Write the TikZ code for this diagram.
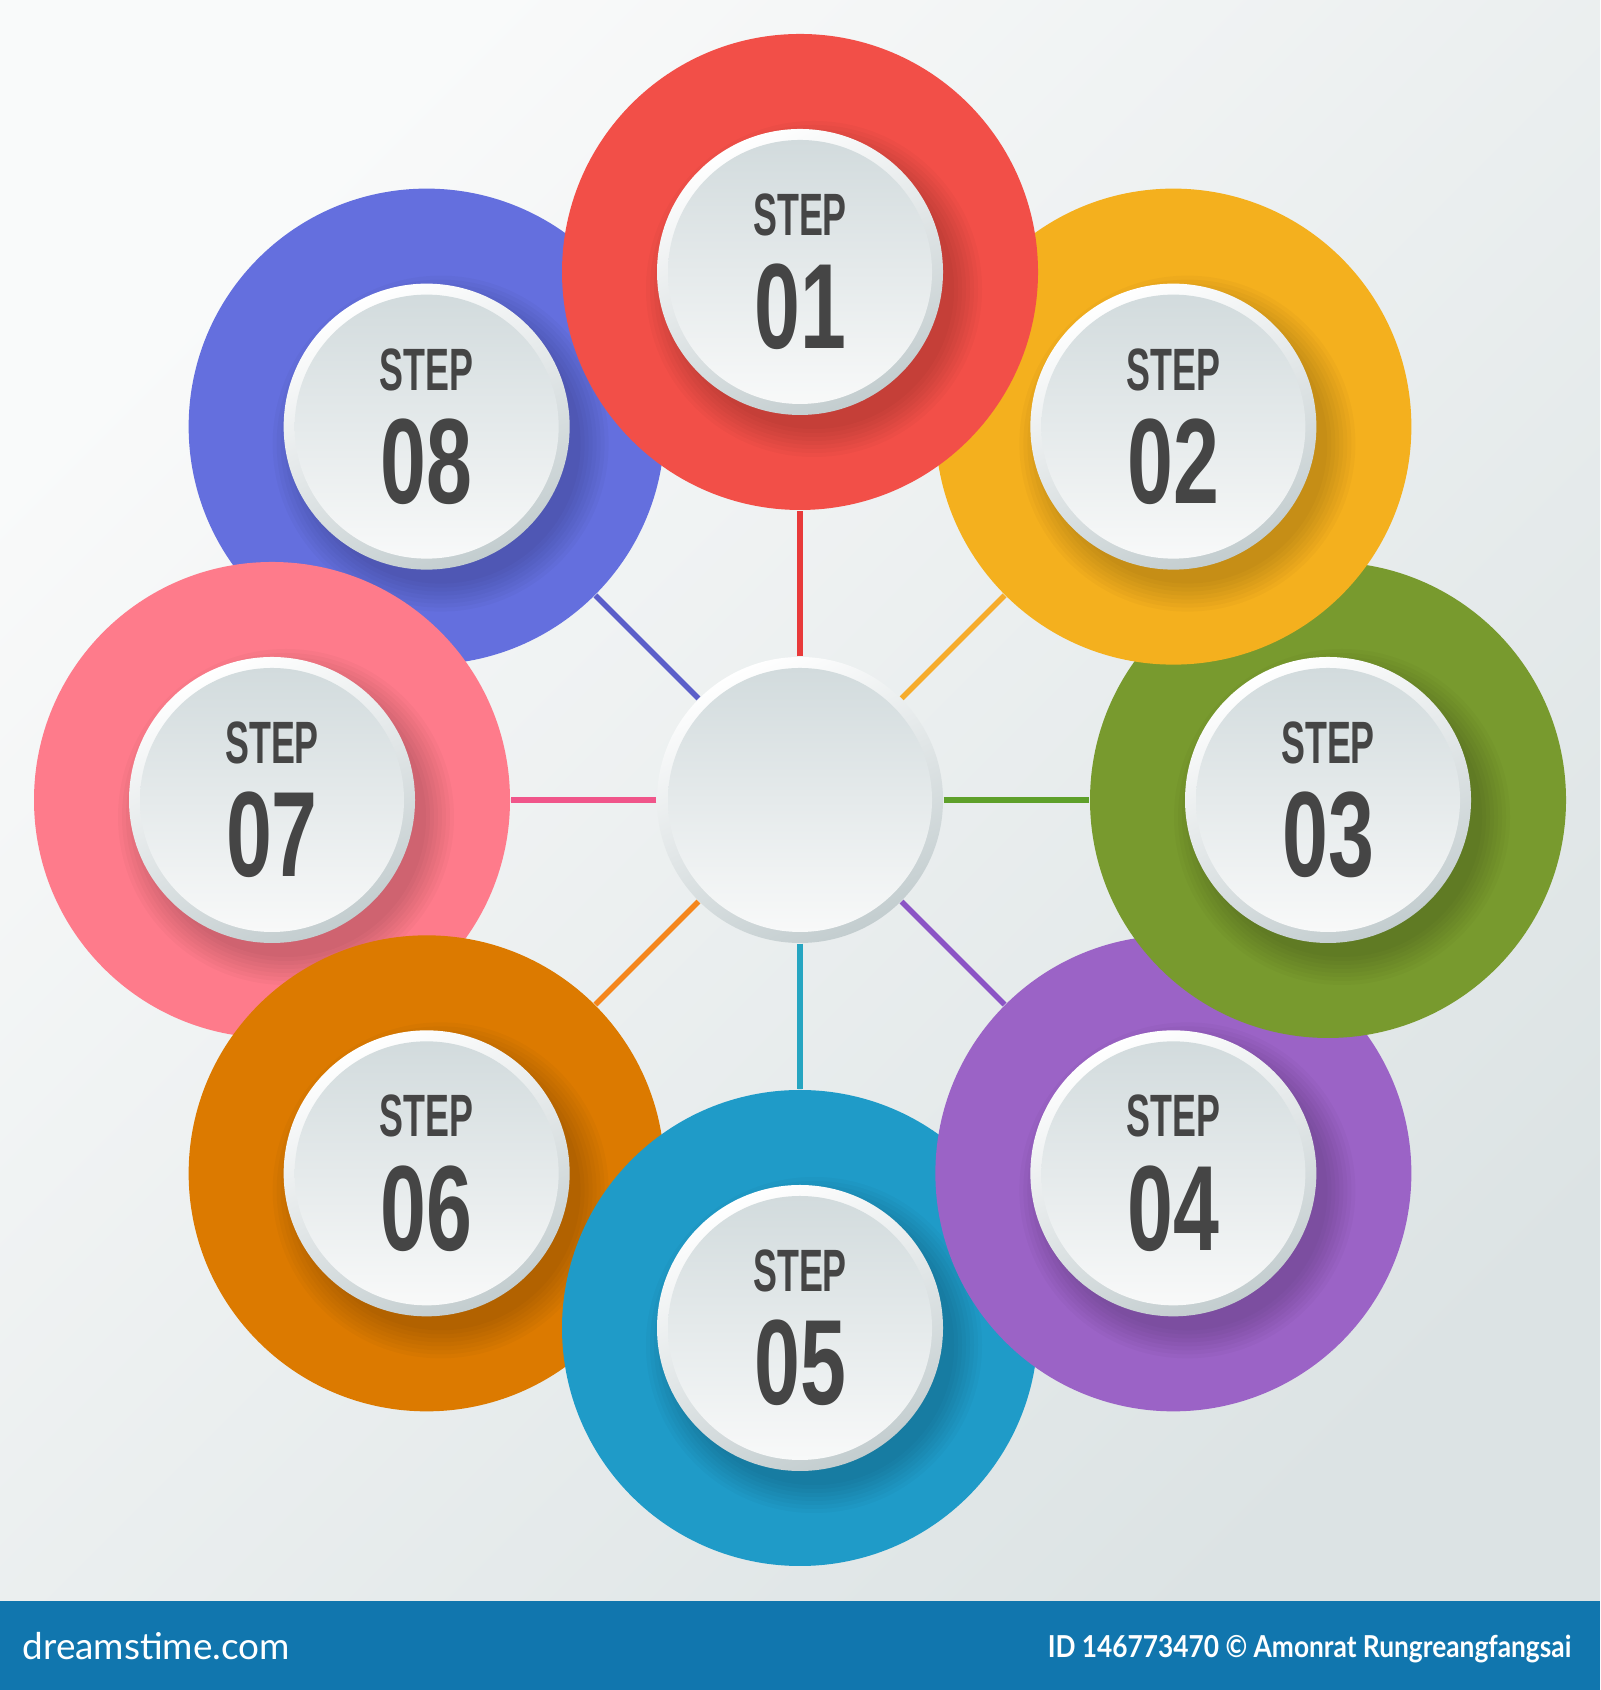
\documentclass[tikz,border=0pt]{standalone}
\usepackage{fontspec}
\usepackage{xcolor}
\usetikzlibrary{positioning,calc,shadings}

\newfontfamily\stepfont[FakeStretch=0.6]{Liberation Sans}
\newfontfamily\numfont[FakeStretch=0.68]{Liberation Sans}
\newfontfamily\logofont{Lato}
\newfontfamily\creditfont[FakeStretch=0.87]{Lato}

\definecolor{ring1}{HTML}{F24F48}
\definecolor{ring2}{HTML}{F4B01E}
\definecolor{ring3}{HTML}{789A2E}
\definecolor{ring4}{HTML}{9B63C6}
\definecolor{ring5}{HTML}{1F9BC8}
\definecolor{ring6}{HTML}{DC7A00}
\definecolor{ring7}{HTML}{FE7B8B}
\definecolor{ring8}{HTML}{646FDE}
\definecolor{link1}{HTML}{E83A3A}
\definecolor{link2}{HTML}{F6AC2B}
\definecolor{link3}{HTML}{5EA02A}
\definecolor{link4}{HTML}{8B54C5}
\definecolor{link5}{HTML}{26A5C1}
\definecolor{link6}{HTML}{F5861C}
\definecolor{link7}{HTML}{F0558A}
\definecolor{link8}{HTML}{5B5EC9}
\definecolor{bgtop}{HTML}{F9FAFA}
\definecolor{bgbot}{HTML}{DCE3E4}
\definecolor{rimgray}{HTML}{C3CDCF}
\definecolor{facetop}{HTML}{D2DBDD}
\definecolor{facebot}{HTML}{F8F9F9}
\definecolor{steptext}{HTML}{454545}
\definecolor{band}{HTML}{1176AE}

\pgfdeclarelayer{back}
\pgfdeclarelayer{links}
\pgfsetlayers{back,links,main}

\tikzset{
  ring/.style={circle, minimum size=4.76cm, inner sep=0pt, fill=#1},
  rim/.style={circle, minimum size=2.86cm, inner sep=0pt,
    top color=white, bottom color=rimgray, shading angle=25},
  face/.style={circle, minimum size=2.64cm, inner sep=0pt,
    top color=facetop, bottom color=facebot},
  link/.style={draw=#1, line width=0.55mm},
  steplbl/.style={text=steptext, inner sep=0pt,
    font=\stepfont\bfseries\fontsize{17}{17}\selectfont},
  stepnum/.style={text=steptext, inner sep=0pt,
    font=\numfont\bfseries\fontsize{34.5}{34.5}\selectfont},
}

\begin{document}
\begin{tikzpicture}
  \useasboundingbox (0,0) rectangle (16,16.9);

  % background and footer band
  \begin{pgfonlayer}{back}
    \shade[top color=bgtop, bottom color=bgbot, shading angle=45] (0,0) rectangle (16,16.9);
    \fill[band] (0,0) rectangle (16,.89);
  \end{pgfonlayer}
  \node[anchor=base west, inner sep=0pt, text=white,
    font=\logofont\fontsize{10.5}{10.5}\selectfont] (logo) at (.22,.3) {dreamstime.com};
  \node[anchor=base east, inner sep=0pt, text=white,
    font=\creditfont\bfseries\fontsize{8.6}{8.6}\selectfont] (credit) at (15.72,.33)
    {ID 146773470 © Amonrat Rungreangfangsai};

  % hub
  \node[rim] (hub) at (8,8.9) {};
  \node[face] (hubface) at (hub) {};

  % steps, last one first so that step 01 lies on top
  \foreach \i in {8,7,...,1} {
    \node[ring=ring\i] (s\i) at ($(hub)+({90-45*(\i-1)}:5.28)$) {};
    \foreach \k in {1,...,8}
      \fill[black, opacity=.022] ([shift={(.14,-.17)}]s\i.center) circle ({1.36+.04*\k});
    \node[rim] (r\i) at (s\i) {};
    \node[face] (f\i) at (r\i) {};
    \node[steplbl] (t\i) at ([yshift=.57cm]f\i.center) {STEP};
    \node[stepnum] (n\i) at ([yshift=-.35cm]f\i.center) {0\i};
    \begin{pgfonlayer}{links}
      \draw[link=link\i] (hub) -- (s\i);
    \end{pgfonlayer}
  }
\end{tikzpicture}
\end{document}
